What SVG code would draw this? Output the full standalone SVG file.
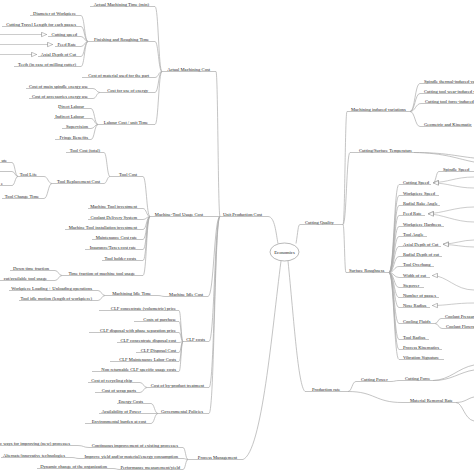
<svg xmlns="http://www.w3.org/2000/svg" width="474" height="474" viewBox="0 0 474 474">
<style>
.t{font-family:"Liberation Serif",serif;font-size:4.6px;fill:#1a1a1a}
.e{text-anchor:end}
.u{stroke:#aaa;stroke-width:0.7;fill:none}
.c{stroke:#aaa;stroke-width:0.7;fill:none}
.x{stroke:#aaa;stroke-width:0.6;fill:none;marker-end:url(#ah)}
</style>
<defs>
<marker id="ah" markerUnits="userSpaceOnUse" markerWidth="6" markerHeight="6" viewBox="0 0 6 6" refX="6" refY="3" orient="auto">
<path d="M0.6,0.8 L5.6,3 L0.6,5.2 Z M0,0.6 V5.4" fill="#fff" stroke="#888" stroke-width="0.5"/>
</marker>
</defs>
<rect width="474" height="474" fill="#fff"/>
<g id="connectors">
<path class="c" d="M81,15.5 C84.5,15.5 84.5,41.5 88,41.5 M81,26.5 C84.5,26.5 84.5,41.5 88,41.5 M81,36.5 C84.5,36.5 84.5,41.5 88,41.5 M81,46.5 C84.5,46.5 84.5,41.5 88,41.5 M81,56.5 C84.5,56.5 84.5,41.5 88,41.5 M81,66.5 C84.5,66.5 84.5,41.5 88,41.5"/>
<path class="c" d="M155,6.5 C158.5,6.5 158.5,71.5 162,71.5 M155,41.5 C158.5,41.5 158.5,71.5 162,71.5 M155,77.5 C158.5,77.5 158.5,71.5 162,71.5 M155,92.5 C158.5,92.5 158.5,71.5 162,71.5 M155,124.5 C158.5,124.5 158.5,71.5 162,71.5"/>
<path class="c" d="M93,88.5 C96.5,88.5 96.5,92.5 100,92.5 M93,98.5 C96.5,98.5 96.5,92.5 100,92.5"/>
<path class="c" d="M91,108.5 C94.5,108.5 94.5,124.5 98,124.5 M91,118.5 C94.5,118.5 94.5,124.5 98,124.5 M91,128.5 C94.5,128.5 94.5,124.5 98,124.5 M91,139.5 C94.5,139.5 94.5,124.5 98,124.5"/>
<path class="c" d="M216,71.5 C218,71.5 218,216.5 220,216.5"/>
<path class="c" d="M143,176.5 C146.5,176.5 146.5,216.5 150,216.5 M143,208.5 C146.5,208.5 146.5,216.5 150,216.5 M143,219.5 C146.5,219.5 146.5,216.5 150,216.5 M143,229.5 C146.5,229.5 146.5,216.5 150,216.5 M143,239.5 C146.5,239.5 146.5,216.5 150,216.5 M143,249.5 C146.5,249.5 146.5,216.5 150,216.5 M143,260.5 C146.5,260.5 146.5,216.5 150,216.5 M143,275.5 C146.5,275.5 146.5,216.5 150,216.5"/>
<path class="c" d="M104,152.5 C107,152.5 107,176.5 110,176.5 M104,183.5 C107,183.5 107,176.5 110,176.5"/>
<path class="c" d="M44,176.5 C48,176.5 48,183.5 52,183.5 M44,198.5 C48,198.5 48,183.5 52,183.5"/>
<path class="c" d="M12,162.5 C15,162.5 15,176.5 18,176.5 M12,171.5 C15,171.5 15,176.5 18,176.5 M12,185.5 C15,185.5 15,176.5 18,176.5"/>
<path class="c" d="M55,270.5 C58.5,270.5 58.5,275.5 62,275.5 M55,280.5 C58.5,280.5 58.5,275.5 62,275.5"/>
<path class="c" d="M208,296.5 C214,296.5 214,216.5 220,216.5 M158,295.5 C161.5,295.5 161.5,296.5 165,296.5"/>
<path class="c" d="M98,290.5 C101.5,290.5 101.5,295.5 105,295.5 M98,300.5 C101.5,300.5 101.5,295.5 105,295.5"/>
<path class="c" d="M209,341.5 C214.5,341.5 214.5,216.5 220,216.5 M209,387.5 C214.5,387.5 214.5,216.5 220,216.5 M209,413.5 C214.5,413.5 214.5,216.5 220,216.5"/>
<path class="c" d="M179,310.5 C181,310.5 181,341.5 183,341.5 M179,321.5 C181,321.5 181,341.5 183,341.5 M179,332.5 C181,332.5 181,341.5 183,341.5 M179,342.5 C181,342.5 181,341.5 183,341.5 M179,352.5 C181,352.5 181,341.5 183,341.5 M179,361.5 C181,361.5 181,341.5 183,341.5 M179,371.5 C181,371.5 181,341.5 183,341.5"/>
<path class="c" d="M140,382.5 C143.5,382.5 143.5,387.5 147,387.5 M140,392.5 C143.5,392.5 143.5,387.5 147,387.5"/>
<path class="c" d="M151,403.5 C154.5,403.5 154.5,413.5 158,413.5 M151,413.5 L158,413.5 M151,423.5 C154.5,423.5 154.5,413.5 158,413.5"/>
<path class="c" d="M183,447.5 C185.5,447.5 185.5,459.5 188,459.5 M183,458.5 C185.5,458.5 185.5,459.5 188,459.5 M183,469.5 C185.5,469.5 185.5,459.5 188,459.5"/>
<path class="c" d="M78,445.5 C83.5,445.5 83.5,447.5 89,447.5 M72,457.5 C75.5,457.5 75.5,458.5 79,458.5 M113,468.5 C116.5,468.5 116.5,469.5 120,469.5"/>
<path class="c" d="M268,216.5 C275,216.5 276,234 278,243.5 M296,243.5 C298,232 298,224.5 300,224.5"/>
<path class="c" d="M281,261 C272,330 262,452 243,459.5 M288,261 C294,320 298,386 305,391.5"/>
<path class="c" d="M343,224.5 C345,224.5 345,111.5 347,111.5 M343,224.5 C346.5,224.5 346.5,152.5 350,152.5 M343,224.5 C344.5,224.5 344.5,272.5 346,272.5"/>
<path class="c" d="M410,111.5 C415,111.5 415,83.5 420,83.5 M410,111.5 C415,111.5 415,93.5 420,93.5 M410,111.5 C415.5,111.5 415.5,103.5 421,103.5 M410,111.5 C415,111.5 415,126.5 420,126.5"/>
<path class="c" d="M414,152.5 C445,152.5 455,156 474,158 M414,152.5 C445,153 458,159 474,162"/>
<path class="c" d="M389,272.5 C394,272.5 394,184.5 399,184.5 M389,272.5 C394,272.5 394,195.5 399,195.5 M389,272.5 C394,272.5 394,205.5 399,205.5 M389,272.5 C394,272.5 394,215.5 399,215.5 M389,272.5 C394,272.5 394,226.5 399,226.5 M389,272.5 C394,272.5 394,236.5 399,236.5 M389,272.5 C394,272.5 394,246.5 399,246.5 M389,272.5 C394,272.5 394,256.5 399,256.5 M389,272.5 C394,272.5 394,266.5 399,266.5 M389,272.5 C394,272.5 394,277.5 399,277.5 M389,272.5 C394,272.5 394,287.5 399,287.5 M389,272.5 C394,272.5 394,297.5 399,297.5 M389,272.5 C394,272.5 394,307.5 399,307.5 M389,272.5 C394,272.5 394,323.5 399,323.5 M389,272.5 C394,272.5 394,339.5 399,339.5 M389,272.5 C394,272.5 394,349.5 399,349.5 M389,272.5 C394,272.5 394,359.5 399,359.5"/>
<path class="c" d="M434,183 C436.5,178 436.5,171.5 439,171.5"/>
<path class="c" d="M435,323.5 C438,323.5 438,318.5 441,318.5 M435,323.5 C438.5,323.5 438.5,328.5 442,328.5"/>
<path class="c" d="M348,391.5 C352,391.5 352,381.5 356,381.5 M348,391.5 C375,391.5 375,402.5 402,402.5 M391,381.5 C395,381.5 395,380.5 399,380.5"/>
<path class="c" d="M433,380.5 C450,380 458,368 474,365 M433,380.5 C450,381 460,372 474,370"/>
<path class="c" d="M456,402.5 C465,402.5 468,398 474,397 M456,402.5 C463,403 464,419 474,421"/>
<path class="x" d="M0,34.5 H47"/>
<path class="x" d="M0,44.5 H53"/>
<path class="x" d="M0,54.5 H37"/>
<path class="x" d="M474,177 C455,177 448,182.5 433,182.5"/>
<path class="x" d="M474,188 C456,188 448,183 433,183"/>
<path class="x" d="M474,207 C455,207 442,213.5 428,213.5"/>
<path class="x" d="M474,222 C455,222 442,214 428,214"/>
<path class="x" d="M474,240 C462,240 455,244 443,244"/>
<path class="x" d="M474,247 C462,247 455,244.5 443,244.5"/>
<path class="x" d="M474,290 C455,290 447,275.5 432,275.5"/>
<path class="x" d="M474,303 C455,303 447,305.5 432,305.5"/>
</g>
<g id="n-economics"><ellipse cx="284.5" cy="252" rx="14.5" ry="9" fill="#fff" stroke="#999" stroke-width="0.7"/><text class="t" x="284.5" y="253.5" text-anchor="middle">Economics</text></g>
<g id="n-upc"><text class="t" x="223" y="215.5">Unit Production Cost</text><path class="u" d="M220,216.5 H268"/></g>
<g id="n-amt"><text class="t e" x="149" y="5.5">Actual Machining Time (min)</text><path class="u" d="M90,6.5 H155"/></g>
<g id="n-dow"><text class="t e" x="76" y="14.5">Diameter of Workpiece</text><path class="u" d="M30,15.5 H81"/></g>
<g id="n-ctl"><text class="t e" x="76" y="25.5">Cutting Travel Length for each passes</text><path class="u" d="M2,26.5 H81"/></g>
<g id="n-cs1"><text class="t e" x="77" y="35.5">Cutting speed</text><path class="u" d="M48,36.5 H81"/></g>
<g id="n-fr1"><text class="t e" x="76" y="45.5">Feed Rate</text><path class="u" d="M55,46.5 H81"/></g>
<g id="n-adc1"><text class="t e" x="76" y="55.5">Axial Depth of Cut</text><path class="u" d="M38,56.5 H81"/></g>
<g id="n-teeth"><text class="t e" x="76" y="65.5">Teeth (in case of milling cutter)</text><path class="u" d="M14,66.5 H81"/></g>
<g id="n-frt"><text class="t e" x="149" y="40.5">Finishing and Roughing Time</text><path class="u" d="M88,41.5 H155"/></g>
<g id="n-cmu"><text class="t e" x="149" y="76.5">Cost of material used for the part</text><path class="u" d="M82,77.5 H155"/></g>
<g id="n-cue"><text class="t e" x="148" y="91.5">Cost for use of energy</text><path class="u" d="M100,92.5 H155"/></g>
<g id="n-cms"><text class="t e" x="88" y="87.5">Cost of main spindle energy use</text><path class="u" d="M26,88.5 H93"/></g>
<g id="n-cae"><text class="t e" x="88" y="97.5">Cost of accessories energy use</text><path class="u" d="M29,98.5 H93"/></g>
<g id="n-lab"><text class="t e" x="148" y="123.5">Labour Cost / unit Time</text><path class="u" d="M98,124.5 H155"/></g>
<g id="n-dl"><text class="t e" x="84" y="107.5">Direct Labour</text><path class="u" d="M59,108.5 H91"/></g>
<g id="n-il"><text class="t e" x="84" y="117.5">Indirect Labour</text><path class="u" d="M54,118.5 H91"/></g>
<g id="n-sup"><text class="t e" x="88" y="127.5">Supervision</text><path class="u" d="M62,128.5 H91"/></g>
<g id="n-fb"><text class="t e" x="88" y="138.5">Fringe Benefits</text><path class="u" d="M55,139.5 H91"/></g>
<g id="n-amc"><text class="t e" x="210" y="70.5">Actual Machining Cost</text><path class="u" d="M162,71.5 H216"/></g>
<g id="n-mtu"><text class="t e" x="203" y="215.5">Machine-Tool Usage Cost</text><path class="u" d="M150,216.5 H220"/></g>
<g id="n-tc"><text class="t e" x="137" y="175.5">Tool Cost</text><path class="u" d="M110,176.5 H143"/></g>
<g id="n-tct"><text class="t e" x="100" y="151.5">Tool Cost (total)</text><path class="u" d="M66,152.5 H104"/></g>
<g id="n-trc"><text class="t e" x="100" y="182.5">Tool Replacement Cost</text><path class="u" d="M52,183.5 H104"/></g>
<g id="n-tl"><text class="t e" x="37" y="175.5">Tool Life</text><path class="u" d="M18,176.5 H44"/></g>
<g id="n-tchg"><text class="t e" x="39" y="197.5">Tool Change Time</text><path class="u" d="M2,198.5 H44"/></g>
<g id="n-tl1"><text class="t e" x="7" y="161.5">ute</text><path class="u" d="M0,162.5 H12"/></g>
<g id="n-tl2"><path class="u" d="M0,171.5 H12"/></g>
<g id="n-tl3"><text class="t e" x="3" y="184.5">e</text><path class="u" d="M0,185.5 H12"/></g>
<g id="n-mti"><text class="t e" x="137" y="207.5">Machine Tool investment</text><path class="u" d="M88,208.5 H143"/></g>
<g id="n-cds"><text class="t e" x="137" y="218.5">Coolant Delivery System</text><path class="u" d="M88,219.5 H143"/></g>
<g id="n-mtii"><text class="t e" x="137" y="228.5">Machine Tool installation investment</text><path class="u" d="M65,229.5 H143"/></g>
<g id="n-mcr"><text class="t e" x="137" y="238.5">Maintenance Cost rate</text><path class="u" d="M92,239.5 H143"/></g>
<g id="n-itc"><text class="t e" x="136" y="248.5">Insurance/Taxes cost rate</text><path class="u" d="M85,249.5 H143"/></g>
<g id="n-thc"><text class="t e" x="136" y="259.5">Tool holder costs</text><path class="u" d="M102,260.5 H143"/></g>
<g id="n-tfu"><text class="t e" x="135" y="274.5">Time fraction of machine tool usage</text><path class="u" d="M62,275.5 H143"/></g>
<g id="n-dtf"><text class="t e" x="49" y="269.5">Down time fraction</text><path class="u" d="M10,270.5 H55"/></g>
<g id="n-cat"><text class="t e" x="47" y="279.5">cut/available tool usage</text><path class="u" d="M0,280.5 H55"/></g>
<g id="n-mic"><text class="t e" x="203" y="295.5">Machine Idle Cost</text><path class="u" d="M165,296.5 H208"/></g>
<g id="n-mit"><text class="t e" x="151" y="294.5">Machining Idle Time</text><path class="u" d="M105,295.5 H158"/></g>
<g id="n-wlu"><text class="t e" x="92" y="289.5">Workpiece Loading + Unloading operations</text><path class="u" d="M9,290.5 H98"/></g>
<g id="n-tim"><text class="t e" x="92" y="299.5">Tool idle motion (length of workpiece)</text><path class="u" d="M19,300.5 H98"/></g>
<g id="n-clf"><text class="t e" x="205" y="340.5">CLF costs</text><path class="u" d="M183,341.5 H209"/></g>
<g id="n-c1"><text class="t e" x="176" y="309.5">CLF concentrate (volumetric) price</text><path class="u" d="M99,310.5 H179"/></g>
<g id="n-c2"><text class="t e" x="176" y="320.5">Costs of purchase</text><path class="u" d="M134,321.5 H179"/></g>
<g id="n-c3"><text class="t e" x="176" y="331.5">CLF disposal with phase separation price</text><path class="u" d="M89,332.5 H179"/></g>
<g id="n-c4"><text class="t e" x="176" y="341.5">CLF concentrate disposal cost</text><path class="u" d="M117,342.5 H179"/></g>
<g id="n-c5"><text class="t e" x="176" y="351.5">CLF Disposal Cost</text><path class="u" d="M136,352.5 H179"/></g>
<g id="n-c6"><text class="t e" x="176" y="360.5">CLF Maintenance Labor Costs</text><path class="u" d="M110,361.5 H179"/></g>
<g id="n-c7"><text class="t e" x="176" y="370.5">Non returnable CLF specific usage costs</text><path class="u" d="M92,371.5 H179"/></g>
<g id="n-bpt"><text class="t e" x="204" y="386.5">Cost of by-product treatment</text><path class="u" d="M147,387.5 H209"/></g>
<g id="n-crc"><text class="t e" x="132" y="381.5">Cost of recycling chip</text><path class="u" d="M88,382.5 H140"/></g>
<g id="n-csp"><text class="t e" x="136" y="391.5">Cost of scrap parts</text><path class="u" d="M95,392.5 H140"/></g>
<g id="n-gp"><text class="t e" x="203" y="412.5">Governmental Policies</text><path class="u" d="M158,413.5 H209"/></g>
<g id="n-ec"><text class="t e" x="143" y="402.5">Energy Costs</text><path class="u" d="M117,403.5 H151"/></g>
<g id="n-ap"><text class="t e" x="141" y="412.5">Availability of Power</text><path class="u" d="M99,413.5 H151"/></g>
<g id="n-eb"><text class="t e" x="146" y="422.5">Environmental burden at cost</text><path class="u" d="M85,423.5 H151"/></g>
<g id="n-pm"><text class="t e" x="237" y="458.5">Process Management</text><path class="u" d="M188,459.5 H243"/></g>
<g id="n-ci"><text class="t e" x="178" y="446.5">Continuous improvement of existing processes</text><path class="u" d="M89,447.5 H183"/></g>
<g id="n-iy"><text class="t e" x="178" y="457.5">Improve yield and/or material/energy consumption</text><path class="u" d="M79,458.5 H183"/></g>
<g id="n-pmy"><text class="t e" x="180" y="468.5">Performance measurement/yield</text><path class="u" d="M120,469.5 H183"/></g>
<g id="n-cw"><text class="t e" x="70" y="444.5">c ways for improving (new) processes</text><path class="u" d="M0,445.5 H78"/></g>
<g id="n-ait"><text class="t e" x="65" y="456.5">Alternate/innovative technologies</text><path class="u" d="M1,457.5 H72"/></g>
<g id="n-dco"><text class="t e" x="107" y="467.5">Dynamic change of the organization</text><path class="u" d="M37,468.5 H113"/></g>
<g id="n-cq"><text class="t" x="305" y="223.5">Cutting Quality</text><path class="u" d="M300,224.5 H343"/></g>
<g id="n-miv"><text class="t" x="351" y="110.5">Machining induced variations</text><path class="u" d="M347,111.5 H410"/></g>
<g id="n-stv"><text class="t" x="424" y="82.5">Spindle thermal-induced variations</text><path class="u" d="M420,83.5 H474"/></g>
<g id="n-ctw"><text class="t" x="424" y="92.5">Cutting tool wear-induced variations</text><path class="u" d="M420,93.5 H474"/></g>
<g id="n-ctf"><text class="t" x="425" y="102.5">Cutting tool force-induced variations</text><path class="u" d="M421,103.5 H474"/></g>
<g id="n-gk"><text class="t" x="424" y="125.5">Geometric and Kinematic</text><path class="u" d="M420,126.5 H472"/></g>
<g id="n-cst"><text class="t" x="359" y="151.5">Cutting/Surface Temperature</text><path class="u" d="M350,152.5 H414"/></g>
<g id="n-sr"><text class="t" x="349" y="271.5">Surface Roughness</text><path class="u" d="M346,272.5 H389"/></g>
<g id="n-ss"><text class="t" x="443" y="170.5">Spindle Speed</text><path class="u" d="M439,171.5 H474"/></g>
<g id="n-cs2"><text class="t" x="403" y="183.5">Cutting Speed</text><path class="u" d="M399,184.5 H431"/></g>
<g id="n-ws"><text class="t" x="403" y="194.5">Workpiece Speed</text><path class="u" d="M399,195.5 H439"/></g>
<g id="n-rra"><text class="t" x="403" y="204.5">Radial Rake Angle</text><path class="u" d="M399,205.5 H440"/></g>
<g id="n-fr2"><text class="t" x="403" y="214.5">Feed Rate</text><path class="u" d="M399,215.5 H425"/></g>
<g id="n-wh"><text class="t" x="403" y="225.5">Workpiece Hardness</text><path class="u" d="M399,226.5 H444"/></g>
<g id="n-ta"><text class="t" x="403" y="235.5">Tool Angle</text><path class="u" d="M399,236.5 H427"/></g>
<g id="n-adc2"><text class="t" x="403" y="245.5">Axial Depth of Cut</text><path class="u" d="M399,246.5 H441"/></g>
<g id="n-rdc"><text class="t" x="403" y="255.5">Radial Depth of cut</text><path class="u" d="M399,256.5 H442"/></g>
<g id="n-to"><text class="t" x="403" y="265.5">Tool Overhang</text><path class="u" d="M399,266.5 H434"/></g>
<g id="n-wc"><text class="t" x="403" y="276.5">Width of cut</text><path class="u" d="M399,277.5 H430"/></g>
<g id="n-so"><text class="t" x="403" y="286.5">Stepover</text><path class="u" d="M399,287.5 H424"/></g>
<g id="n-np"><text class="t" x="403" y="296.5">Number of passes</text><path class="u" d="M399,297.5 H439"/></g>
<g id="n-nr"><text class="t" x="403" y="306.5">Nose Radius</text><path class="u" d="M399,307.5 H430"/></g>
<g id="n-cf"><text class="t" x="403" y="322.5">Cooling Fluids</text><path class="u" d="M399,323.5 H435"/></g>
<g id="n-cp"><text class="t" x="445" y="317.5">Coolant Pressure</text><path class="u" d="M441,318.5 H474"/></g>
<g id="n-cfr"><text class="t" x="446" y="327.5">Coolant Flowrate</text><path class="u" d="M442,328.5 H474"/></g>
<g id="n-tr"><text class="t" x="403" y="338.5">Tool Radius</text><path class="u" d="M399,339.5 H429"/></g>
<g id="n-pk"><text class="t" x="403" y="348.5">Process Kinematics</text><path class="u" d="M399,349.5 H442"/></g>
<g id="n-vs"><text class="t" x="403" y="358.5">Vibration Signature</text><path class="u" d="M399,359.5 H444"/></g>
<g id="n-prate"><text class="t" x="312" y="390.5">Production rate</text><path class="u" d="M305,391.5 H348"/></g>
<g id="n-cpow"><text class="t" x="361" y="380.5">Cutting Power</text><path class="u" d="M356,381.5 H391"/></g>
<g id="n-cfo"><text class="t" x="405" y="379.5">Cutting Force</text><path class="u" d="M399,380.5 H433"/></g>
<g id="n-mrr"><text class="t" x="410" y="401.5">Material Removal Rate</text><path class="u" d="M402,402.5 H456"/></g>
</svg>
